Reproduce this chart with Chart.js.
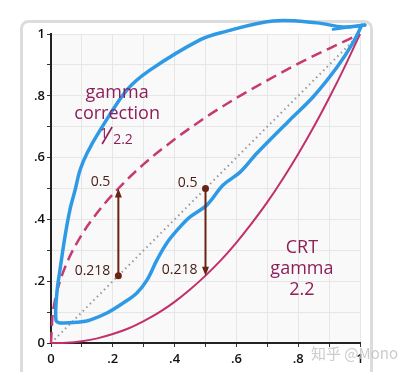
<!DOCTYPE html>
<html>
<head>
<meta charset="utf-8">
<script src="https://cdn.jsdelivr.net/npm/chart.js@4"></script>
<style>
  html, body { margin: 0; padding: 0; background: #fff; }
  #wrap { width: 402px; height: 372px; position: relative; }
</style>
</head>
<body>
<div id="wrap"><canvas id="gammaChart"></canvas></div>
<script>
// =======================
// DATA
// =======================
const tickLabels = ["0", ".2", ".4", ".6", ".8", "1"];

// dashed curve: gamma correction 1/2.2
const corrX = [0, 0.005, 0.01, 0.02, 0.05, 0.1, 0.15, 0.2, 0.3, 0.4, 0.5, 0.6, 0.7, 0.8, 0.9, 1];
const corrY = [0, 0.090, 0.123, 0.169, 0.256, 0.351, 0.422, 0.481, 0.579, 0.659, 0.730, 0.793, 0.850, 0.904, 0.953, 1];

// solid curve: CRT gamma 2.2
const crtX = [0, 0.05, 0.1, 0.15, 0.2, 0.25, 0.3, 0.35, 0.4, 0.45, 0.5, 0.55, 0.6, 0.65, 0.7, 0.75, 0.8, 0.85, 0.9, 0.95, 1];
const crtY = [0, 0.001, 0.006, 0.015, 0.029, 0.047, 0.071, 0.099, 0.133, 0.173, 0.218, 0.268, 0.325, 0.388, 0.456, 0.531, 0.612, 0.699, 0.793, 0.893, 1];

// dotted diagonal
const linX = [0, 1];
const linY = [0, 1];

// hand drawn blue loop (starts top right, inner curve, outer curve, back)
const blueX = [1.006, 0.977, 0.926, 0.848, 0.773, 0.667, 0.612, 0.557, 0.505, 0.450, 0.417, 0.375, 0.343, 0.311, 0.278, 0.233, 0.181, 0.126, 0.094, 0.029, 0.016, 0.019, 0.029, 0.045, 0.061, 0.078, 0.094, 0.117, 0.159, 0.246, 0.320, 0.482, 0.557, 0.718, 0.861, 0.945, 1.016];
const blueY = [1.029, 0.971, 0.893, 0.796, 0.722, 0.615, 0.553, 0.511, 0.447, 0.408, 0.375, 0.324, 0.269, 0.204, 0.162, 0.129, 0.097, 0.074, 0.068, 0.065, 0.074, 0.162, 0.236, 0.343, 0.430, 0.495, 0.560, 0.615, 0.689, 0.819, 0.883, 0.981, 1.006, 1.042, 1.036, 1.023, 1.029];
const barbX = [0.913, 1.016];
const barbY = [1.015, 1.029];

// brown arrows: x, start (dot), end (head)
const arrowX = [0.218, 0.5];
const arrowFrom = [0.218, 0.5];
const arrowTo = [0.5, 0.218];
const arrowLabels = [["0.218", "0.5"], ["0.5", "0.218"]];

const captionLeft = ["gamma", "correction"];
const captionRight = ["CRT", "gamma", "2.2"];
const fraction = ["1", "2.2"];
const watermark = "知乎 @Mono";

const pts = (xs, ys) => xs.map((x, i) => ({ x: x, y: ys[i] }));

// =======================
// DECORATION PLUGIN
// =======================
const TEXT_RED = "#8c1f5a";
const BROWN = "#6a2412";

const decor = {
  id: "decor",
  beforeDraw(chart) {
    const { ctx, chartArea: a } = chart;
    ctx.save();
    ctx.fillStyle = "#fff";
    ctx.fillRect(0, 0, chart.width, chart.height);
    ctx.strokeStyle = "#dcdcdc";
    ctx.lineWidth = 3;
    ctx.beginPath();
    ctx.roundRect(21.5, 21.5, 350, 372, 7);
    ctx.stroke();
    ctx.fillStyle = "#f9f9f9";
    ctx.fillRect(a.left, a.top, a.right - a.left, a.bottom - a.top);
    ctx.restore();
  },
  afterDatasetsDraw(chart) {
    const { ctx } = chart;
    const xs = chart.scales.x, ys = chart.scales.y;
    ctx.save();

    // arrows
    arrowX.forEach((v, i) => {
      const px = xs.getPixelForValue(v);
      const y0 = ys.getPixelForValue(arrowFrom[i]);
      const y1 = ys.getPixelForValue(arrowTo[i]);
      const dir = y1 < y0 ? 1 : -1;
      ctx.strokeStyle = BROWN;
      ctx.fillStyle = BROWN;
      ctx.lineWidth = 2;
      ctx.beginPath();
      ctx.moveTo(px, y0);
      ctx.lineTo(px, y1 + dir * 6);
      ctx.stroke();
      ctx.beginPath();
      ctx.moveTo(px, y1);
      ctx.lineTo(px - 3.5, y1 + dir * 9);
      ctx.lineTo(px + 3.5, y1 + dir * 9);
      ctx.closePath();
      ctx.fill();
      ctx.beginPath();
      ctx.arc(px, y0, 3.5, 0, Math.PI * 2);
      ctx.fill();

      // value labels
      ctx.fillStyle = "#4a2016";
      ctx.font = "14px 'Open Sans'";
      ctx.textAlign = "right";
      ctx.textBaseline = "middle";
      ctx.fillText(arrowLabels[i][0], px - 8, y0 - 5);
      ctx.fillText(arrowLabels[i][1], px - 8, y1 - 6);
    });

    // captions
    ctx.fillStyle = TEXT_RED;
    ctx.font = "18px 'Open Sans'";
    ctx.textAlign = "center";
    ctx.textBaseline = "middle";
    const lx = xs.getPixelForValue(0.214);
    const ly = ys.getPixelForValue(0.809);
    captionLeft.forEach((t, i) => ctx.fillText(t, lx, ly + i * 21));
    // 1/2.2 written as a fraction
    ctx.textBaseline = "alphabetic";
    ctx.textAlign = "right";
    ctx.font = "14px 'Open Sans'";
    ctx.fillText(fraction[0], lx - 9, ly + 45);
    ctx.textAlign = "left";
    ctx.fillText(fraction[1], lx - 4, ly + 51);
    ctx.strokeStyle = TEXT_RED;
    ctx.lineWidth = 1.6;
    ctx.beginPath();
    ctx.moveTo(lx - 15, ly + 51);
    ctx.lineTo(lx - 5, ly + 34);
    ctx.stroke();

    ctx.font = "18px 'Open Sans'";
    ctx.textAlign = "center";
    ctx.textBaseline = "middle";
    const rx = xs.getPixelForValue(0.812);
    const ry = ys.getPixelForValue(0.307);
    captionRight.forEach((t, i) => ctx.fillText(t, rx, ry + i * 21));
    ctx.restore();
  },
  afterDraw(chart) {
    const { ctx } = chart;
    ctx.save();
    ctx.fillStyle = "rgba(190,190,190,0.8)";
    ctx.font = "15px 'Noto Sans CJK SC'";
    ctx.textAlign = "left";
    ctx.textBaseline = "middle";
    ctx.fillText(watermark, 311, 353);
    ctx.restore();
  }
};

// =======================
// CHART
// =======================
const tickFmt = (v) => {
  const k = Math.round(v * 10);
  return k % 2 ? "" : tickLabels[k / 2];
};

const axisBase = {
  type: "linear",
  min: 0,
  max: 1,
  ticks: {
    stepSize: 0.1,
    autoSkip: false,
    maxRotation: 0,
    callback: tickFmt,
    color: "#111",
    font: { family: "'Open Sans'", size: 13, weight: "600" },
    padding: 2
  },
  grid: { color: "#e6e6e6", tickColor: "#333", tickLength: 4, lineWidth: 1 },
  border: { color: "#222", width: 2 }
};

new Chart(document.getElementById("gammaChart"), {
  type: "scatter",
  data: {
    datasets: [
      {
        data: pts(blueX, blueY),
        showLine: true, borderColor: "#2e9ae6", borderWidth: 3.5,
        tension: 0.35, pointRadius: 0, clip: false, borderCapStyle: "round", borderJoinStyle: "round"
      },
      {
        data: pts(barbX, barbY),
        showLine: true, borderColor: "#2e9ae6", borderWidth: 3,
        pointRadius: 0, clip: false, borderCapStyle: "round"
      },
      {
        data: pts(corrX, corrY),
        showLine: true, borderColor: "#c53a72", borderWidth: 2.5, borderDash: [11, 6],
        cubicInterpolationMode: "monotone", pointRadius: 0, clip: false
      },
      {
        data: pts(crtX, crtY),
        showLine: true, borderColor: "#c2306b", borderWidth: 2,
        cubicInterpolationMode: "monotone", pointRadius: 0, clip: false
      },
      {
        data: pts(linX, linY),
        showLine: true, borderColor: "#999", borderWidth: 2, borderDash: [1.5, 3.5],
        pointRadius: 0, clip: false
      }
    ]
  },
  options: {
    responsive: true,
    maintainAspectRatio: false,
    animation: false,
    devicePixelRatio: 1,
    layout: { padding: { left: 0, top: 34, right: 42, bottom: 0 } },
    plugins: { legend: { display: false }, tooltip: { enabled: false } },
    scales: {
      x: Object.assign({}, axisBase, {
        ticks: Object.assign({}, axisBase.ticks, { padding: 4 }),
        afterFit: (s) => { s.height = 29; }
      }),
      y: Object.assign({}, axisBase, { afterFit: (s) => { s.width = 51; } })
    }
  },
  plugins: [decor]
});
</script>
</body>
</html>
